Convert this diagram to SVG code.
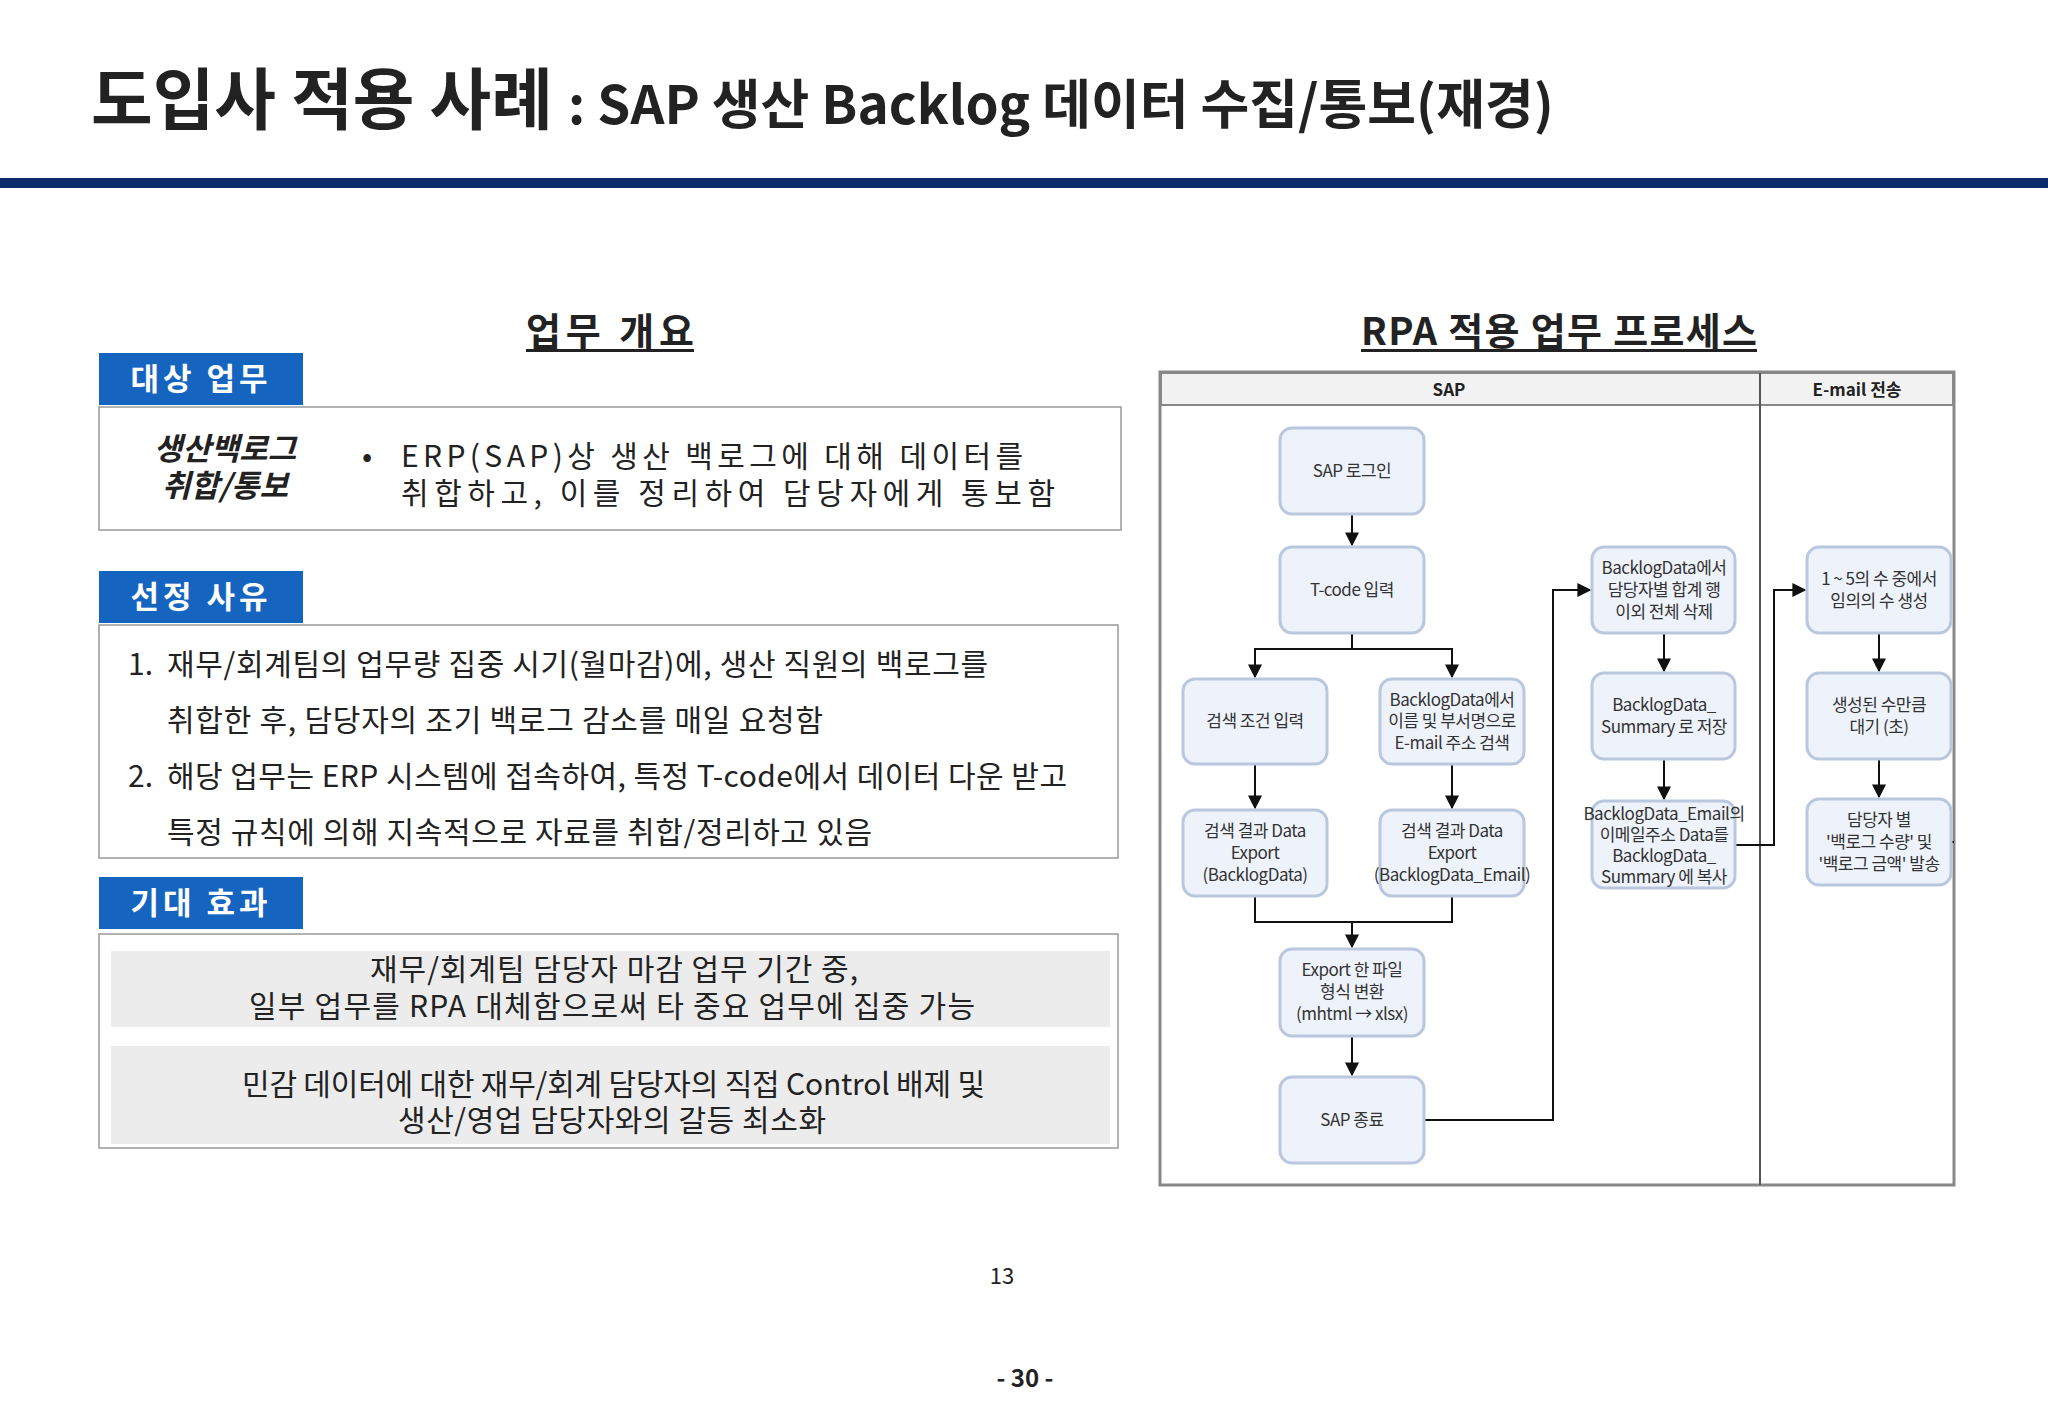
<svg xmlns="http://www.w3.org/2000/svg" width="2048" height="1418" viewBox="0 0 2048 1418">
<style>
text{font-family:"Noto Sans CJK KR","Noto Sans",sans-serif;fill:#222}
.lab{fill:#1565c0}
.labt{fill:#fff;font-size:31px;font-weight:bold;letter-spacing:4px}
.box{fill:#fff;stroke:#999;stroke-width:1.5}
.body{font-size:30px}
.nd{fill:#eef2fa;stroke:#b9c8de;stroke-width:3}
.nt{font-size:17px;text-anchor:middle;fill:#333;letter-spacing:-0.5px}
.cn{fill:none;stroke:#111;stroke-width:2}
</style>
<defs><marker id="ar" viewBox="0 0 10 10" refX="9" refY="5" markerWidth="7" markerHeight="7" orient="auto"><path d="M0,0L10,5L0,10z" fill="#111"/></marker></defs>
<rect width="2048" height="1418" fill="#fff"/>
<text x="91" y="124" font-size="67" font-weight="bold" fill="#333">도입사 적용 사례 <tspan font-size="53">: SAP 생산 Backlog 데이터 수집/통보(재경)</tspan></text>
<rect x="0" y="178" width="2048" height="10" fill="#0b2a6b"/>
<text x="526" y="345" font-size="38" font-weight="bold" textLength="168" lengthAdjust="spacing">업무 개요</text>
<rect x="526" y="349" width="168" height="3" fill="#222"/>
<text x="1361" y="345" font-size="38" font-weight="bold" textLength="396" lengthAdjust="spacing">RPA 적용 업무 프로세스</text>
<rect x="1361" y="349" width="396" height="3" fill="#222"/>
<g id="target">
<rect class="lab" x="99" y="353" width="204" height="52"/><text class="labt" x="201" y="390" text-anchor="middle">대상 업무</text>
<rect class="box" x="99" y="407" width="1022" height="123"/>
<text x="225" y="460" font-size="31" font-weight="bold" font-style="italic" text-anchor="middle">생산백로그</text>
<text x="225" y="497" font-size="31" font-weight="bold" font-style="italic" text-anchor="middle">취합/통보</text>
<text class="body" x="362" y="467">•</text>
<text class="body" x="401" y="467" textLength="622" lengthAdjust="spacing">ERP(SAP)상 생산 백로그에 대해 데이터를</text>
<text class="body" x="401" y="504" textLength="654" lengthAdjust="spacing">취합하고, 이를 정리하여 담당자에게 통보함</text>
</g>
<g id="reason">
<rect class="lab" x="99" y="571" width="204" height="52"/><text class="labt" x="201" y="608" text-anchor="middle">선정 사유</text>
<rect class="box" x="99" y="625" width="1019" height="233"/>
<text class="body" x="128" y="675">1.</text><text class="body" x="167" y="675" textLength="821" lengthAdjust="spacing">재무/회계팀의 업무량 집중 시기(월마감)에, 생산 직원의 백로그를</text>
<text class="body" x="167" y="731" textLength="656" lengthAdjust="spacing">취합한 후, 담당자의 조기 백로그 감소를 매일 요청함</text>
<text class="body" x="128" y="787">2.</text><text class="body" x="167" y="787" textLength="900" lengthAdjust="spacing">해당 업무는 ERP 시스템에 접속하여, 특정 T-code에서 데이터 다운 받고</text>
<text class="body" x="167" y="843" textLength="705" lengthAdjust="spacing">특정 규칙에 의해 지속적으로 자료를 취합/정리하고 있음</text>
</g>
<g id="effect">
<rect class="lab" x="99" y="877" width="204" height="52"/><text class="labt" x="201" y="914" text-anchor="middle">기대 효과</text>
<rect class="box" x="99" y="934" width="1019" height="214"/>
<rect x="111" y="951" width="999" height="76" fill="#ececec"/>
<rect x="111" y="1046" width="999" height="98" fill="#ececec"/>
<text class="body" x="370" y="980" textLength="488" lengthAdjust="spacing">재무/회계팀 담당자 마감 업무 기간 중,</text>
<text class="body" x="249" y="1017" textLength="726" lengthAdjust="spacing">일부 업무를 RPA 대체함으로써 타 중요 업무에 집중 가능</text>
<text class="body" x="242" y="1095" textLength="743" lengthAdjust="spacing">민감 데이터에 대한 재무/회계 담당자의 직접 Control 배제 및</text>
<text class="body" x="398" y="1131" textLength="428" lengthAdjust="spacing">생산/영업 담당자와의 갈등 최소화</text>
</g>
<g id="lanes">
<rect x="1160" y="372" width="794" height="813" fill="#fff" stroke="#888" stroke-width="3"/>
<rect x="1161" y="373" width="792" height="32" fill="#f2f2f2" stroke="#888" stroke-width="2"/>
<line x1="1760" y1="373" x2="1760" y2="1185" stroke="#555" stroke-width="2"/>
<text x="1449" y="396" font-size="17" font-weight="bold" text-anchor="middle" fill="#333">SAP</text>
<text x="1857" y="396" font-size="17" font-weight="bold" text-anchor="middle" fill="#333">E-mail 전송</text>
</g>
<g id="connectors">
<line class="cn" x1="1352" y1="514" x2="1352" y2="545" marker-end="url(#ar)"/>
<path class="cn" d="M1352,633V649H1255V677" marker-end="url(#ar)"/>
<path class="cn" d="M1352,649H1452V677" marker-end="url(#ar)"/>
<line class="cn" x1="1255" y1="764" x2="1255" y2="808" marker-end="url(#ar)"/>
<line class="cn" x1="1452" y1="764" x2="1452" y2="808" marker-end="url(#ar)"/>
<path class="cn" d="M1255,896V922H1452V896"/>
<line class="cn" x1="1352" y1="922" x2="1352" y2="947" marker-end="url(#ar)"/>
<line class="cn" x1="1352" y1="1036" x2="1352" y2="1075" marker-end="url(#ar)"/>
<path class="cn" d="M1424,1120H1553V590H1590" marker-end="url(#ar)"/>
<line class="cn" x1="1664" y1="633" x2="1664" y2="671" marker-end="url(#ar)"/>
<line class="cn" x1="1664" y1="759" x2="1664" y2="799" marker-end="url(#ar)"/>
<path class="cn" d="M1735,845H1774V590H1805" marker-end="url(#ar)"/>
<line class="cn" x1="1879" y1="633" x2="1879" y2="671" marker-end="url(#ar)"/>
<line class="cn" x1="1879" y1="759" x2="1879" y2="797" marker-end="url(#ar)"/>
<line class="cn" x1="1951" y1="842" x2="1954" y2="842"/>
</g>
<g id="n1"><rect class="nd" x="1280" y="428" width="144" height="86" rx="12"/><text class="nt" x="1352" y="477">SAP 로그인</text></g>
<g id="n2"><rect class="nd" x="1280" y="547" width="144" height="86" rx="12"/><text class="nt" x="1352" y="596">T-code 입력</text></g>
<g id="n3"><rect class="nd" x="1183" y="679" width="144" height="85" rx="12"/><text class="nt" x="1255" y="727">검색 조건 입력</text></g>
<g id="n4"><rect class="nd" x="1380" y="679" width="144" height="85" rx="12"/><text class="nt" x="1452" y="706">BacklogData에서</text><text class="nt" x="1452" y="727">이름 및 부서명으로</text><text class="nt" x="1452" y="749">E-mail 주소 검색</text></g>
<g id="n5"><rect class="nd" x="1183" y="810" width="144" height="86" rx="12"/><text class="nt" x="1255" y="837">검색 결과 Data</text><text class="nt" x="1255" y="859">Export</text><text class="nt" x="1255" y="881">(BacklogData)</text></g>
<g id="n6"><rect class="nd" x="1380" y="810" width="144" height="86" rx="12"/><text class="nt" x="1452" y="837">검색 결과 Data</text><text class="nt" x="1452" y="859">Export</text><text class="nt" x="1452" y="881" font-size="15">(BacklogData_Email)</text></g>
<g id="n7"><rect class="nd" x="1280" y="949" width="144" height="87" rx="12"/><text class="nt" x="1352" y="976">Export 한 파일</text><text class="nt" x="1352" y="998">형식 변환</text><text class="nt" x="1352" y="1020">(mhtml → xlsx)</text></g>
<g id="n8"><rect class="nd" x="1280" y="1077" width="144" height="86" rx="12"/><text class="nt" x="1352" y="1126">SAP 종료</text></g>
<g id="n9"><rect class="nd" x="1592" y="547" width="143" height="86" rx="12"/><text class="nt" x="1664" y="574">BacklogData에서</text><text class="nt" x="1664" y="596">담당자별 합계 행</text><text class="nt" x="1664" y="618">이외 전체 삭제</text></g>
<g id="n10"><rect class="nd" x="1592" y="673" width="143" height="86" rx="12"/><text class="nt" x="1664" y="711">BacklogData_</text><text class="nt" x="1664" y="733">Summary 로 저장</text></g>
<g id="n11"><rect class="nd" x="1592" y="801" width="143" height="87" rx="12"/><text class="nt" x="1664" y="820" font-size="15">BacklogData_Email의</text><text class="nt" x="1664" y="841" font-size="15">이메일주소 Data를</text><text class="nt" x="1664" y="862" font-size="15">BacklogData_</text><text class="nt" x="1664" y="883" font-size="15">Summary 에 복사</text></g>
<g id="n12"><rect class="nd" x="1807" y="547" width="144" height="86" rx="12"/><text class="nt" x="1879" y="585">1 ~ 5의 수 중에서</text><text class="nt" x="1879" y="607">임의의 수 생성</text></g>
<g id="n13"><rect class="nd" x="1807" y="673" width="144" height="86" rx="12"/><text class="nt" x="1879" y="711">생성된 수만큼</text><text class="nt" x="1879" y="733">대기 (초)</text></g>
<g id="n14"><rect class="nd" x="1807" y="799" width="144" height="86" rx="12"/><text class="nt" x="1879" y="826">담당자 별</text><text class="nt" x="1879" y="848">'백로그 수량' 및</text><text class="nt" x="1879" y="870">'백로그 금액' 발송</text></g>
<text x="1002" y="1284" font-size="22" text-anchor="middle" fill="#888">13</text>
<text x="1025" y="1387" font-size="24" font-weight="bold" text-anchor="middle" fill="#444">- 30 -</text>
</svg>
